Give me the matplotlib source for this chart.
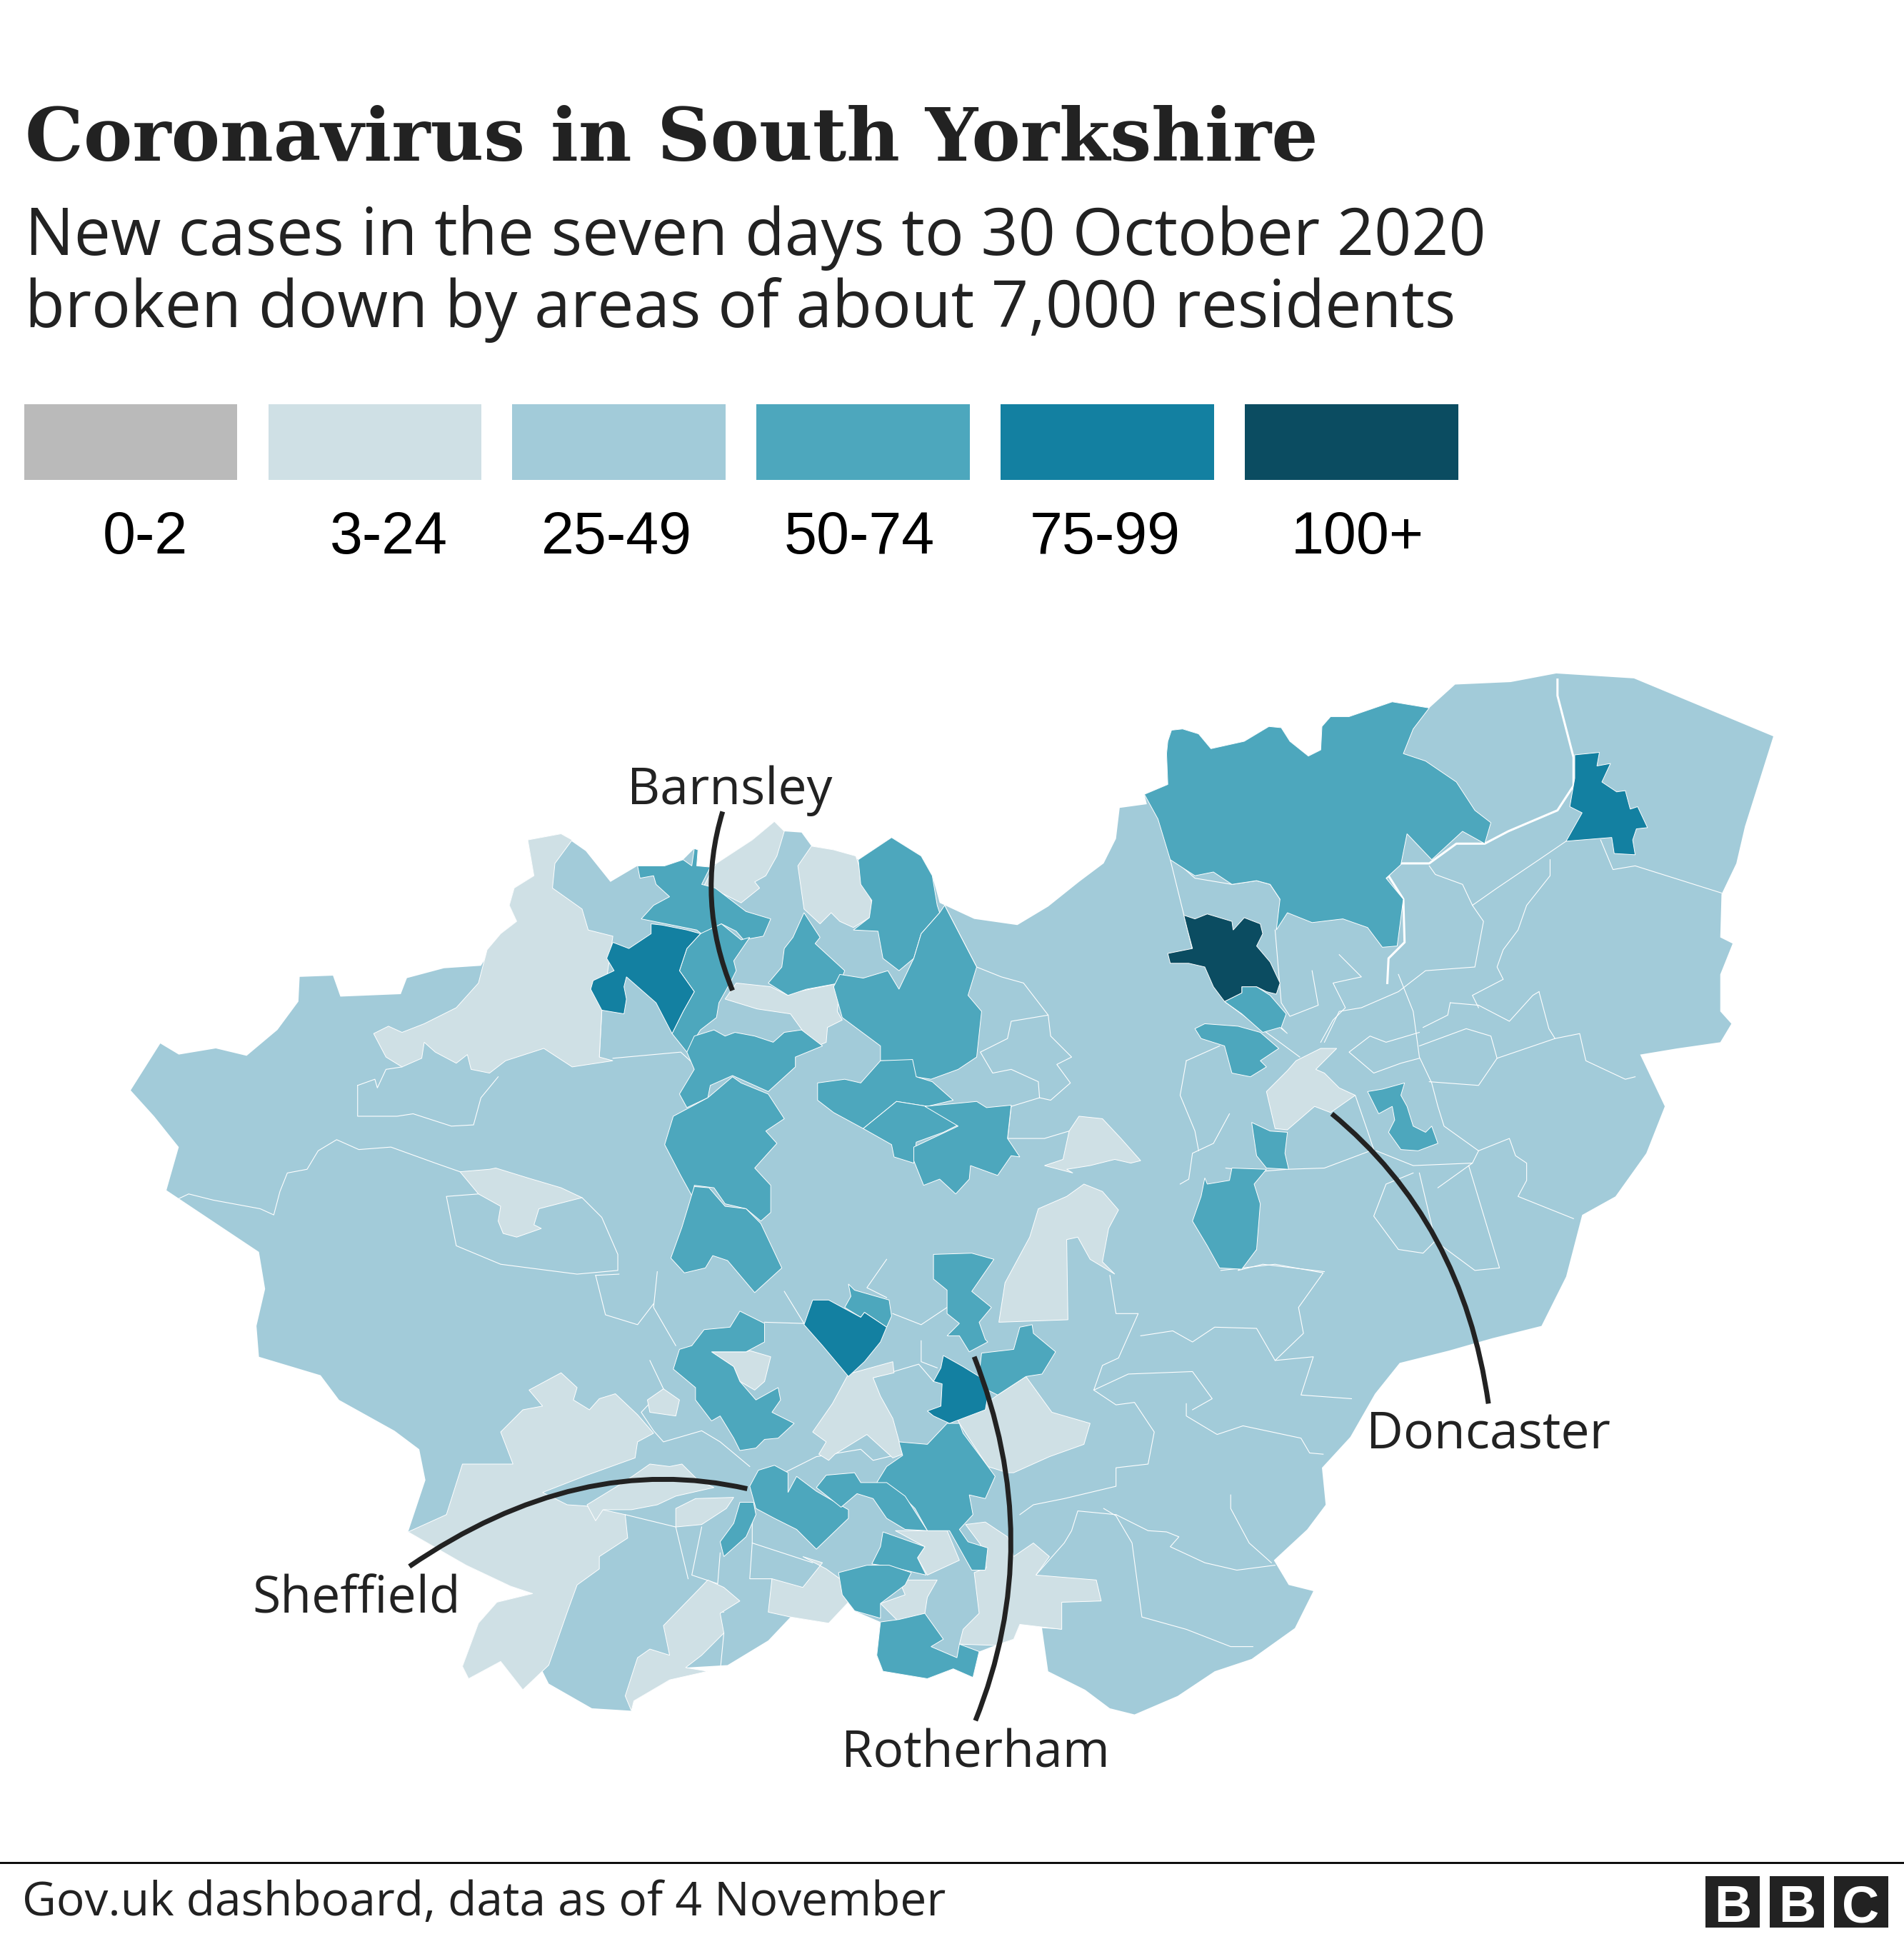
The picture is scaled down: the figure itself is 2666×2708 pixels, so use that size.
import matplotlib
matplotlib.use("Agg")
import matplotlib.pyplot as plt
from matplotlib.patches import Polygon, Rectangle, PathPatch
from matplotlib.path import Path

# ---------- legend ----------
BAND_LABELS = ["0-2", "3-24", "25-49", "50-74", "75-99", "100+"]
BAND_COLOURS = ["#bababa", "#cfe0e5", "#a2cbd9", "#4da7bd", "#1380a1", "#0b4c61"]
LABEL_X = [118, 315, 500, 697, 896, 1101]

# ---------- map outline (traced, image coords) ----------
OUTLINE = [(106,884),(130,846),(145,855),(175,850),(200,856),(225,835),(242,812),(243,792),(270,791),(276,808),(325,806),(330,793),(360,785),(390,783),(395,775),(406,757),(419,747),(413,734),(417,720),(433,710),(428,681),(455,676),(475,690),(495,715),(517,702),(539,702),(554,697),(563,688),(566,689),(565,702),(576,703),(581,700),(610,681),(628,666),(636,674),(650,675),(658,686),(676,689),(696,697),(723,679),(747,694),(756,710),(762,732),(790,745),(825,750),(850,735),(875,715),(895,700),(905,680),(908,655),(930,652),(928,644),(947,636),(946,611),(947,601),(950,592),(959,591),(972,595),(982,607),(1009,601),(1029,589),(1039,590),(1046,601),(1061,613),(1071,608),(1072,589),(1079,581),(1094,581),(1129,569),(1159,574),(1180,555),(1225,553),(1262,546),(1325,550),(1438,597),(1415,670),(1408,700),(1396,725),(1395,760),(1405,765),(1395,790),(1395,820),(1404,830),(1395,845),(1360,850),(1330,855),(1350,897),(1335,935),(1310,970),(1283,985),(1270,1035),(1250,1075),(1210,1085),(1175,1095),(1135,1105),(1115,1130),(1095,1165),(1072,1190),(1075,1220),(1060,1240),(1033,1265),(1045,1285),(1065,1290),(1050,1320),(1015,1345),(985,1355),(955,1375),(920,1390),(900,1385),(880,1370),(850,1355),(845,1320),(861,1321),(861,1299),(893,1298),(889,1281),(860,1285),(840,1300),(827,1317),(822,1329),(807,1334),(794,1339),(789,1360),(773,1353),(752,1361),(716,1355),(711,1342),(714,1315),(693,1306),(683,1293),(672,1316),(641,1311),(623,1330),(590,1350),(556,1352),(543,1362),(514,1379),(512,1387),(480,1385),(445,1365),(435,1345),(424,1370),(406,1347),(380,1361),(375,1351),(388,1316),(403,1299),(432,1292),(414,1286),(378,1269),(331,1242),(345,1200),(340,1175),(320,1160),(275,1135),(260,1115),(210,1100),(208,1075),(215,1045),(210,1015),(165,985),(135,965),(145,930),(125,905)]

# ---------- 3-24 areas ----------
LIGHT_AREAS = [
    [(428,681),(455,676),(464,681),(450,700),(448,720),(472,737),(477,754),(497,759),(488,820),(486,857),(497,860),(464,865),(441,850),(410,860),(397,870),(382,867),(379,855),(370,862),(353,853),(344,845),(342,858),(326,865),(313,857),(303,838),(315,832),(326,837),(344,830),(370,817),(388,797),(395,770),(406,757),(419,747),(413,734),(417,720),(433,710)],
    [(331,1242),(362,1228),(375,1187),(416,1187),(406,1161),(424,1143),(440,1140),(429,1127),(455,1113),(468,1125),(465,1135),(478,1143),(486,1134),(499,1130),(517,1147),(530,1162),(517,1169),(515,1182),(476,1196),(440,1210),(460,1220),(475,1221),(507,1228),(509,1247),(486,1262),(486,1272),(468,1285),(460,1307),(445,1350),(424,1370),(406,1347),(380,1361),(375,1351),(388,1316),(403,1299),(432,1292),(414,1286),(378,1269)],
    [(507,1201),(527,1187),(543,1189),(553,1187),(566,1200),(579,1206),(548,1213),(533,1220),(512,1224),(489,1224),(483,1233),(476,1220)],
    [(548,1223),(564,1215),(595,1214),(589,1223),(569,1236),(548,1238)],
    [(525,1135),(538,1126),(551,1135),(548,1148),(527,1145)],
    [(688,1114),(724,1104),(725,1113),(708,1117),(714,1132),(724,1150),(732,1179),(724,1182),(703,1163),(677,1179),(672,1184),(664,1179),(670,1169),(659,1161),(675,1138)],
    [(832,1116),(845,1134),(853,1145),(884,1154),(879,1171),(851,1181),(822,1194),(817,1194),(801,1189),(778,1154),(775,1148),(801,1137),(809,1131)],
    [(783,1236),(799,1234),(817,1246),(822,1262),(838,1251),(851,1262),(840,1277),(889,1281),(893,1298),(861,1299),(861,1321),(827,1317),(822,1329),(807,1334),(778,1333),(781,1321),(794,1308),(790,1275),(800,1271),(795,1252)],
    [(729,1281),(760,1281),(752,1295),(750,1308),(729,1315),(714,1300),(734,1293)],
    [(726,1241),(768,1241),(778,1265),(752,1277),(744,1263),(750,1254)],
    [(626,1280),(651,1287),(667,1267),(651,1262),(670,1272),(688,1285),(688,1299),(672,1316),(641,1311),(623,1307)],
    [(574,1281),(587,1287),(600,1298),(584,1308),(587,1324),(569,1342),(556,1352),(574,1355),(543,1362),(514,1379),(512,1387),(507,1375),(517,1344),(527,1337),(543,1342),(538,1318)],
    [(1084,850),(1071,850),(1051,860),(1044,868),(1027,885),(1034,915),(1044,916),(1066,897),(1079,902),(1099,888),(1086,882),(1074,870),(1067,867)],
    [(875,905),(894,907),(909,923),(925,941),(917,943),(904,940),(884,945),(865,948),(870,951),(847,945),(862,940),(867,917)],
    [(879,960),(894,966),(907,981),(899,996),(894,1023),(904,1033),(884,1021),(874,1003),(865,1005),(866,1070),(810,1072),(815,1040),(835,1003),(842,980),(865,970)],
    [(628,666),(636,674),(630,694),(621,710),(612,715),(616,720),(601,732),(581,722),(570,720),(577,706),(581,700),(610,681)],
    [(658,686),(676,689),(694,694),(700,712),(707,732),(705,744),(692,752),(681,747),(674,740),(665,749),(652,737),(647,702)],
    [(597,797),(625,800),(639,807),(647,804),(681,797),(679,820),(683,827),(671,833),(670,845),(663,848),(654,840),(641,822),(614,818),(588,810)],
    [(373,950),(397,948),(402,947),(428,955),(455,963),(472,971),(437,980),(433,993),(439,996),(419,1003),(408,1000),(404,990),(406,978),(388,968)],
    [(577,1096),(605,1096),(608,1095),(625,1100),(620,1120),(612,1127),(600,1120),(595,1108)],
]

# ---------- 50-74 areas ----------
MID_AREAS = [
    [(947,601),(950,592),(959,591),(972,595),(982,607),(1009,601),(1029,589),(1039,590),(1046,601),(1061,613),(1071,608),(1072,589),(1079,581),(1094,581),(1129,569),(1159,574),(1146,591),(1138,611),(1156,617),(1181,634),(1196,657),(1209,667),(1204,684),(1186,674),(1161,697),(1141,676),(1136,701),(1124,712),(1138,729),(1133,767),(1121,768),(1109,752),(1089,745),(1064,748),(1044,740),(1035,754),(1038,729),(1030,717),(1019,714),(999,717),(984,707),(969,710),(949,697),(939,664),(928,644),(947,636),(946,611)],
    [(517,702),(539,702),(554,697),(561,702),(563,688),(566,689),(565,702),(576,703),(569,717),(580,720),(605,739),(625,745),(619,759),(603,762),(597,755),(585,749),(570,758),(565,754),(530,747),(520,745),(530,734),(543,727),(532,717),(530,710),(519,712)],
    [(568,757),(585,749),(601,762),(608,760),(595,779),(597,787),(592,797),(583,813),(581,825),(568,835),(557,853),(545,838),(554,820),(563,804),(551,787),(557,769)],
    [(652,740),(665,760),(661,765),(685,787),(681,797),(654,802),(639,807),(623,797),(634,784),(636,769),(643,760)],
    [(696,697),(723,679),(747,694),(756,710),(760,734),(762,740),(747,757),(741,777),(729,787),(716,777),(712,755),(692,754),(705,744),(707,730),(698,717)],
    [(766,734),(792,784),(785,807),(796,820),(792,857),(777,867),(755,875),(742,873),(740,860),(714,860),(714,848),(683,825),(676,800),(681,790),(700,793),(720,787),(729,802),(741,777),(747,757),(762,740)],
    [(563,840),(579,835),(588,840),(596,837),(612,840),(627,845),(636,837),(650,835),(667,848),(645,857),(645,865),(623,885),(594,872),(576,880),(574,890),(557,898),(551,887),(563,867),(557,853)],
    [(546,905),(574,890),(594,873),(601,878),(623,887),(636,907),(621,917),(630,927),(612,947),(625,961),(625,983),(617,990),(605,980),(588,976),(579,963),(563,961),(563,973),(552,953),(539,928)],
    [(563,962),(575,963),(588,978),(605,980),(617,992),(634,1028),(612,1048),(590,1022),(578,1018),(572,1028),(555,1032),(544,1020),(553,995)],
    [(663,878),(685,875),(698,878),(714,860),(740,859),(743,873),(756,877),(773,892),(752,897),(727,893),(700,915),(676,902),(663,892)],
    [(700,915),(727,893),(752,897),(777,912),(765,918),(743,926),(741,943),(725,938),(723,928)],
    [(750,897),(792,893),(800,898),(820,896),(817,923),(827,938),(820,937),(809,953),(787,945),(786,956),(775,968),(762,956),(749,961),(741,941),(741,930),(777,913)],
    [(993,812),(1007,805),(1007,800),(1019,800),(1030,807),(1043,822),(1039,833),(1044,838),(1038,833),(1024,837),(1007,822)],
    [(969,834),(977,830),(1004,832),(1022,837),(1037,850),(1022,860),(1027,865),(1014,873),(999,870),(993,848),(974,842)],
    [(1109,885),(1121,883),(1139,878),(1136,888),(1141,897),(1146,913),(1156,918),(1161,913),(1166,927),(1150,933),(1136,932),(1126,918),(1131,908),(1129,897),(1118,903),(1114,895)],
    [(1015,910),(1030,917),(1044,918),(1042,935),(1045,948),(1027,947),(1019,937)],
    [(977,955),(979,960),(997,957),(999,947),(1027,948),(1017,960),(1022,976),(1019,1013),(1007,1029),(989,1028),(979,1010),(967,990),(974,970)],
    [(688,1041),(693,1046),(721,1054),(723,1067),(719,1076),(701,1064),(698,1068),(685,1060),(690,1051)],
    [(757,1017),(788,1016),(806,1021),(788,1047),(804,1060),(794,1072),(799,1086),(801,1088),(786,1096),(778,1083),(768,1083),(778,1073),(768,1065),(768,1046),(757,1037)],
    [(796,1097),(822,1094),(827,1076),(837,1074),(838,1081),(856,1096),(845,1114),(832,1116),(809,1131),(801,1127),(794,1114)],
    [(729,1169),(752,1171),(768,1154),(778,1154),(781,1162),(796,1182),(807,1197),(799,1215),(786,1212),(789,1228),(778,1240),(785,1250),(801,1255),(799,1273),(788,1273),(770,1241),(752,1241),(742,1223),(729,1210),(711,1202),(719,1189),(732,1180)],
    [(608,1205),(615,1192),(628,1188),(639,1194),(639,1210),(646,1197),(662,1209),(688,1224),(688,1231),(662,1256),(646,1240),(628,1231),(613,1223)],
    [(662,1206),(670,1196),(693,1194),(698,1202),(719,1202),(734,1213),(752,1241),(734,1240),(719,1231),(708,1215),(695,1211),(682,1222)],
    [(600,1218),(611,1218),(613,1228),(605,1246),(587,1262),(584,1250),(595,1235)],
    [(716,1242),(750,1254),(744,1263),(751,1277),(721,1270),(707,1268),(714,1254)],
    [(680,1275),(703,1269),(721,1269),(739,1275),(734,1285),(714,1300),(714,1312),(693,1306),(683,1293)],
    [(714,1315),(729,1313),(750,1308),(765,1329),(755,1335),(776,1344),(778,1333),(794,1339),(789,1360),(773,1353),(752,1361),(716,1355),(711,1342)],
    [(600,1063),(620,1073),(620,1088),(605,1096),(577,1096),(595,1108),(600,1120),(613,1135),(631,1125),(633,1135),(626,1145),(644,1154),(631,1166),(620,1167),(613,1174),(600,1176),(595,1166),(584,1148),(577,1152),(564,1135),(564,1125),(546,1110),(551,1094),(561,1091),(571,1078),(592,1076)],
]

# ---------- 75-99 areas ----------
HIGH_AREAS = [
    [(1277,612),(1297,610),(1295,621),(1306,619),(1299,634),(1311,642),(1318,641),(1322,656),(1328,654),(1336,671),(1327,672),(1324,681),(1326,693),(1309,692),(1307,679),(1270,682),(1283,659),(1273,654),(1277,631)],
    [(528,749),(537,750),(557,754),(568,757),(557,769),(551,787),(563,804),(554,820),(545,838),(532,813),(508,792),(506,800),(508,810),(506,822),(488,819),(479,802),(481,795),(498,787),(492,777),(497,764),(510,769),(528,757)],
    [(659,1054),(672,1054),(698,1068),(701,1064),(719,1076),(714,1088),(701,1104),(688,1116),(667,1091),(652,1074)],
    [(765,1099),(781,1108),(794,1116),(801,1132),(799,1143),(770,1154),(757,1148),(752,1144),(763,1140),(764,1122),(757,1120),(763,1109)],
]

# ---------- 100+ area ----------
TOP_AREAS = [
    [(960,742),(969,745),(979,741),(999,747),(1000,754),(1009,744),(1022,749),(1024,757),(1019,767),(1030,780),(1038,797),(1035,806),(1027,804),(1019,800),(1007,800),(1007,805),(993,812),(984,800),(977,784),(964,781),(949,781),(947,773),(967,769),(963,754)],
]

# ---------- boundaries between 25-49 areas ----------
BOUNDARIES = [
    [(290,880),(304,875),(306,882),(313,867),(326,865)],
    [(290,880),(290,905),(322,905),(335,903),(366,913),(384,912),(390,890),(404,873)],
    [(136,976),(153,968),(173,973),(211,980),(222,985),(227,966),(233,951),(249,948),(258,933),(273,924),(291,932),(317,930),(353,943),(373,950)],
    [(388,968),(362,970),(370,1010),(406,1025),(468,1033),(501,1030),(501,1017),(488,987),(472,971)],
    [(497,858),(552,853),(563,863)],
    [(488,819),(486,857)],
    [(949,697),(967,770)],
    [(993,812),(1054,857)],
    [(766,734),(792,784),(812,792),(830,797),(850,823),(820,828),(817,842),(795,853),(805,870),(820,867),(842,877),(843,890),(820,897)],
    [(850,823),(852,840),(869,857),(857,863),(868,878),(852,892),(843,890)],
    [(820,897),(817,923),(847,923),(867,917)],
    [(952,697),(969,712),(999,717),(1019,714),(1030,717),(1038,729),(1039,742)],
    [(1270,682),(1248,697),(1214,720),(1194,734),(1186,717),(1164,709),(1159,702)],
    [(1194,734),(1203,747),(1196,784),(1156,787),(1134,804),(1104,817),(1086,820),(1074,845)],
    [(1257,697),(1257,710),(1238,734),(1231,754),(1219,770),(1214,784),(1219,794),(1194,807),(1199,817)],
    [(1298,681),(1308,705),(1326,702),(1396,724)],
    [(1248,804),(1256,834),(1261,842),(1214,858),(1199,880),(1159,877)],
    [(1134,790),(1146,820),(1151,857),(1161,878),(1166,897),(1171,913),(1199,933),(1194,943)],
    [(1261,842),(1281,838),(1286,860),(1318,875),(1326,873)],
    [(1199,815),(1224,828),(1243,807),(1248,804)],
    [(1176,813),(1199,815)],
    [(1176,813),(1174,823),(1154,833)],
    [(1151,837),(1124,845),(1111,840),(1094,853),(1114,870),(1136,862),(1151,858)],
    [(1151,848),(1189,834),(1209,840),(1214,858)],
    [(1064,787),(1069,815),(1046,824),(1039,813),(1034,754)],
    [(1086,774),(1104,792),(1081,797),(1091,817),(1081,827),(1071,845)],
    [(1099,888),(1109,917),(1114,932),(1074,947),(1044,948),(1019,950),(994,947)],
    [(997,903),(984,927),(967,935),(964,956),(957,960)],
    [(962,860),(957,888),(969,917),(972,933)],
    [(962,860),(989,848)],
    [(1199,933),(1224,923),(1229,937),(1238,943),(1238,957),(1231,970),(1276,988)],
    [(1191,945),(1216,1028),(1196,1030),(1169,1010)],
    [(1146,951),(1124,960),(1114,986),(1134,1013),(1154,1016),(1164,1006),(1151,951)],
    [(1166,963),(1194,943),(1146,945),(1116,933)],
    [(1019,1013),(1004,1030),(1024,1025),(1074,1031)],
    [(895,1223),(905,1229),(918,1251),(926,1311),(962,1321),(998,1335),(1016,1335)],
    [(905,1228),(931,1241),(946,1242),(956,1246),(949,1254),(977,1267),(1003,1273),(1034,1269)],
    [(905,1228),(874,1225),(869,1241),(863,1251),(840,1277)],
    [(998,1212),(998,1223),(1013,1251),(1031,1267)],
    [(962,1138),(962,1148),(987,1163),(1008,1156),(1055,1166),(1062,1178),(1073,1179)],
    [(887,1127),(905,1139),(920,1137),(936,1161),(931,1187),(905,1190),(905,1205),(863,1215),(838,1220),(827,1228)],
    [(887,1127),(915,1114),(967,1112),(983,1134),(967,1143)],
    [(925,1083),(951,1079),(967,1088),(985,1076),(1019,1077),(1034,1103),(1065,1100),(1055,1131),(1096,1134)],
    [(900,1034),(905,1065),(923,1065),(907,1101),(894,1107),(887,1127)],
    [(990,1030),(1034,1025),(1073,1032),(1053,1060),(1057,1081),(1034,1103)],
    [(483,1034),(502,1033)],
    [(530,1057),(517,1074),(491,1066),(483,1034)],
    [(533,1031),(530,1060),(548,1091)],
    [(636,1047),(652,1073),(620,1072)],
    [(719,1021),(703,1044),(719,1052)],
    [(724,1065),(747,1074),(768,1060)],
    [(747,1087),(747,1104),(760,1109)],
    [(708,1117),(745,1106),(757,1120)],
    [(636,1194),(662,1181),(698,1175),(708,1184),(729,1179)],
    [(527,1103),(538,1126),(520,1145),(530,1160),(538,1169),(569,1160),(584,1169),(608,1189)],
    [(610,1225),(610,1251),(659,1267)],
    [(507,1228),(548,1238),(558,1280)],
    [(569,1238),(561,1277),(582,1284),(584,1259)],
    [(610,1251),(608,1280),(626,1280),(626,1306)],
    [(574,1282),(564,1306),(587,1307)],
    [(587,1324),(584,1355)],
    [(385,1201),(398,1200),(416,1206),(440,1210)],
    [(385,1201),(377,1228),(362,1228)],
]

# thicker borough boundaries
THICK_BOUNDARIES = [
    [(1263,551),(1263,564),(1276,614),(1276,637),(1263,657),(1223,674),(1204,684),(1181,684),(1159,700),(1134,700),(1124,712)],
    [(1126,710),(1138,729),(1139,764),(1126,777),(1125,797)],
]

# ---------- place labels and leader lines ----------
PLACE_NAMES = ["Barnsley", "Doncaster", "Sheffield", "Rotherham"]
PLACE_XY = [(592, 641), (1207, 1163), (289, 1297), (791, 1422)]
LEADERS = [
    [(586, 658), (564, 730), (594, 803)],
    [(1207, 1138), (1186, 990), (1080, 903)],
    [(332, 1270), (469, 1176), (606, 1207)],
    [(791, 1395), (849, 1250), (790, 1100)],
]

TEXT_COL = "#222222"
SANS = ["Open Sans", "DejaVu Sans"]

W, H = 1544, 1568
fig = plt.figure(figsize=(26.66, 27.08), dpi=100)
ax = fig.add_axes([0, 0, 1, 1])
ax.set_xlim(0, W)
ax.set_ylim(H, 0)
ax.axis("off")

# titles
ax.text(20, 130, "Coronavirus in South Yorkshire", family="DejaVu Serif", weight="bold",
        fontsize=74, color=TEXT_COL, va="baseline")
ax.text(20, 207, "New cases in the seven days to 30 October 2020", family=SANS,
        fontsize=65.7, color=TEXT_COL, va="baseline")
ax.text(20, 265, "broken down by areas of about 7,000 residents", family=SANS,
        fontsize=65.7, color=TEXT_COL, va="baseline")

# legend
for i, (lab, col) in enumerate(zip(BAND_LABELS, BAND_COLOURS)):
    x0 = 19.5 + i * 198
    ax.add_patch(Rectangle((x0, 328), 173, 61, facecolor=col, edgecolor="none"))
    ax.text(LABEL_X[i], 449, lab, family="Liberation Sans", fontsize=59.5, color="black",
            ha="center", va="baseline")

# map: base, boundaries, then the coloured areas on top
ax.add_patch(Polygon(OUTLINE, closed=True, facecolor=BAND_COLOURS[2], edgecolor="none", zorder=1))
for line in BOUNDARIES:
    xs, ys = zip(*line)
    ax.plot(xs, ys, color="white", lw=0.8, zorder=2, solid_joinstyle="round")
for line in THICK_BOUNDARIES:
    xs, ys = zip(*line)
    ax.plot(xs, ys, color="white", lw=2.2, zorder=2, solid_joinstyle="round")

for areas, col in [(LIGHT_AREAS, BAND_COLOURS[1]), (MID_AREAS, BAND_COLOURS[3]),
                   (HIGH_AREAS, BAND_COLOURS[4]), (TOP_AREAS, BAND_COLOURS[5])]:
    for pts in areas:
        ax.add_patch(Polygon(pts, closed=True, facecolor=col, edgecolor="white", lw=0.7, zorder=3))

# leaders and place names
for name, xy, pts in zip(PLACE_NAMES, PLACE_XY, LEADERS):
    path = Path(pts, [Path.MOVETO, Path.CURVE3, Path.CURVE3])
    ax.add_patch(PathPatch(path, facecolor="none", edgecolor=TEXT_COL, lw=5, capstyle="butt", zorder=4))
    ax.text(xy[0], xy[1], name, family=SANS, fontsize=51.5, color=TEXT_COL,
            ha="center", va="center", zorder=5)

# footer
ax.plot([0, W], [1510, 1510], color="black", lw=2)
ax.text(18, 1553, "Gov.uk dashboard, data as of 4 November", family=SANS, fontsize=47.4,
        color=TEXT_COL, va="baseline")
for i, letter in enumerate("BBC"):
    x0 = 1383 + i * 52
    ax.add_patch(Rectangle((x0, 1521), 44, 42, facecolor="#222222", edgecolor="none"))
    ax.text(x0 + 22, 1543, letter, family="Liberation Sans", weight="bold", fontsize=52,
            color="white", ha="center", va="center_baseline")

fig.savefig("out.png", dpi=100, facecolor="white")
